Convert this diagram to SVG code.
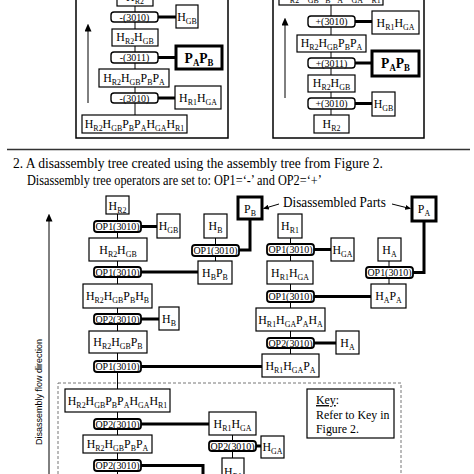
<svg xmlns="http://www.w3.org/2000/svg" width="474" height="474" viewBox="0 0 474 474">
<defs>
<style>
.bx{fill:#fff;stroke:#000;stroke-width:1.2}
.bd{fill:#fff;stroke:#000;stroke-width:3}
.op{fill:#fff;stroke:#000;stroke-width:1.4}
.op2{fill:#fff;stroke:#000;stroke-width:1.8}
.ln{stroke:#000;stroke-width:1;fill:none}
.tk{stroke:#000;stroke-width:3;fill:none}
.fr{fill:none;stroke:#000;stroke-width:1.5}
.ds{fill:none;stroke:#777;stroke-width:1;stroke-dasharray:3 2}
text{font-family:"Liberation Serif","Times New Roman",serif;fill:#000}
.t{font-size:13.5px;text-anchor:middle}
.s{font-size:9px}
.o{font-size:11.3px;text-anchor:middle}
.b{font-size:15.5px;font-weight:bold;text-anchor:middle}
.bs{font-size:10px}
.h{font-size:15.4px}
.k{font-size:13.5px}
.dp{font-size:15px}
.fl{font-family:"Liberation Sans",Arial,sans-serif;font-size:9px;text-anchor:middle}
</style>
<marker id="ah" viewBox="0 0 10 10" refX="2" refY="5" markerWidth="8" markerHeight="7" markerUnits="userSpaceOnUse" orient="auto" preserveAspectRatio="none"><path d="M0,0L10,5L0,10z"/></marker>
<marker id="as" viewBox="0 0 10 10" refX="8" refY="5" markerWidth="6" markerHeight="5" markerUnits="userSpaceOnUse" orient="auto" preserveAspectRatio="none"><path d="M0,0L10,5L0,10z"/></marker>
</defs>

<rect x="0" y="0" width="474" height="474" fill="#fff"/>

<!-- frames / separators -->
<rect class="fr" x="76" y="-10" width="152" height="148"/>
<rect class="fr" x="273" y="-10" width="151" height="148"/>
<line x1="7" y1="149.5" x2="470" y2="149.5" stroke="#333" stroke-width="1.5"/>
<rect class="ds" x="58" y="383" width="343" height="110"/>

<text class="h" transform="translate(13,168) scale(.88,1)">2. A disassembly tree created using the assembly tree from Figure 2.</text>
<text class="h" transform="translate(27,185) scale(.88,1)" textLength="335" lengthAdjust="spacingAndGlyphs">Disassembly tree operators are set to: OP1=‘-’ and OP2=‘+’</text>

<g id="connectors">
<path class="ln" d="M135,6V115M331,5V115"/>
<path class="tk" d="M158,17H176M158,57.5H176M158,98H175M355,21.5H372M355,63H372M355,103.5H372"/>
<path class="ln" d="M88,103V30" stroke-width="1.5" marker-end="url(#ah)"/>
<path class="ln" d="M285,98V24" stroke-width="1.5" marker-end="url(#ah)"/>
<path class="ln" d="M117.5,214V480M215.5,238V261M290.5,238V354M389,261V284M232.5,435V480"/>
<path class="tk" d="M141,226.5H157M141,272H198M141,319H159M141,366.5H262M141,424H209M141,465.5H203V480M239,250H250V219M314,249.5H331M314,296.5H371M314,343H336M413,272.5H424V221M256,446H261"/>
<path class="ln" d="M49,480V220" stroke-width="1.3" marker-end="url(#ah)"/>
<path class="ln" d="M279,204L264,208.5" marker-end="url(#as)"/>
<path class="ln" d="M392,204L410,208.5" marker-end="url(#as)"/>
</g>

<!-- top-left panel -->
<g id="tl_hr2"><rect class="bx" x="117" y="-15" width="36" height="21"/><text class="t" transform="translate(135,1) scale(.88,1)">H<tspan class="s" dy="3">R2</tspan></text></g>
<g id="tl_op1"><rect class="op" x="111" y="12" width="47" height="10" rx="3"/><text class="o" transform="translate(134.5,20.8) scale(.88,1)">-(3010)</text></g>
<g id="tl_hgb"><rect class="bx" x="176" y="5" width="22" height="23"/><text class="t" transform="translate(187,20.5) scale(.88,1)">H<tspan class="s" dy="3">GB</tspan></text></g>
<g id="tl_hr2hgb"><rect class="bx" x="112" y="29" width="46" height="17"/><text class="t" transform="translate(135,41) scale(.88,1)">H<tspan class="s" dy="3">R2</tspan><tspan dy="-3">H</tspan><tspan class="s" dy="3">GB</tspan></text></g>
<g id="tl_op2"><rect class="op" x="111" y="52" width="47" height="11" rx="3"/><text class="o" transform="translate(134.5,61.3) scale(.88,1)">-(3011)</text></g>
<g id="tl_papb"><rect class="bd" x="176" y="46" width="46" height="23"/><text class="b" transform="translate(199,62.5) scale(.88,1)">P<tspan class="bs" dy="3">A</tspan><tspan dy="-3">P</tspan><tspan class="bs" dy="3">B</tspan></text></g>
<g id="tl_hr2hgbpbpa"><rect class="bx" x="99" y="69" width="70" height="18"/><text class="t" transform="translate(134,81.5) scale(.88,1)">H<tspan class="s" dy="3">R2</tspan><tspan dy="-3">H</tspan><tspan class="s" dy="3">GB</tspan><tspan dy="-3">P</tspan><tspan class="s" dy="3">B</tspan><tspan dy="-3">P</tspan><tspan class="s" dy="3">A</tspan></text></g>
<g id="tl_op3"><rect class="op" x="111" y="93" width="47" height="10" rx="3"/><text class="o" transform="translate(134.5,101.8) scale(.88,1)">-(3010)</text></g>
<g id="tl_hr1hga"><rect class="bx" x="175" y="86" width="46" height="23"/><text class="t" transform="translate(198,101.5) scale(.88,1)">H<tspan class="s" dy="3">R1</tspan><tspan dy="-3">H</tspan><tspan class="s" dy="3">GA</tspan></text></g>
<g id="tl_full"><rect class="bx" x="82" y="115" width="105" height="18"/><text class="t" transform="translate(134.5,127.5) scale(.88,1)">H<tspan class="s" dy="3">R2</tspan><tspan dy="-3">H</tspan><tspan class="s" dy="3">GB</tspan><tspan dy="-3">P</tspan><tspan class="s" dy="3">B</tspan><tspan dy="-3">P</tspan><tspan class="s" dy="3">A</tspan><tspan dy="-3">H</tspan><tspan class="s" dy="3">GA</tspan><tspan dy="-3">H</tspan><tspan class="s" dy="3">R1</tspan></text></g>

<!-- top-right panel -->
<g id="tr_full"><rect class="bx" x="279" y="-15" width="104" height="20"/><text class="t" transform="translate(331,-0.5) scale(.88,1)">H<tspan class="s" dy="3">R2</tspan><tspan dy="-3">H</tspan><tspan class="s" dy="3">GB</tspan><tspan dy="-3">P</tspan><tspan class="s" dy="3">B</tspan><tspan dy="-3">P</tspan><tspan class="s" dy="3">A</tspan><tspan dy="-3">H</tspan><tspan class="s" dy="3">GA</tspan><tspan dy="-3">H</tspan><tspan class="s" dy="3">R1</tspan></text></g>
<g id="tr_op1"><rect class="op" x="308" y="16" width="47" height="11" rx="3"/><text class="o" transform="translate(331.5,25.3) scale(.88,1)">+(3010)</text></g>
<g id="tr_hr1hga"><rect class="bx" x="372" y="11" width="47" height="23"/><text class="t" transform="translate(395.5,26.5) scale(.88,1)">H<tspan class="s" dy="3">R1</tspan><tspan dy="-3">H</tspan><tspan class="s" dy="3">GA</tspan></text></g>
<g id="tr_hr2hgbpbpa"><rect class="bx" x="297" y="35" width="69" height="17"/><text class="t" transform="translate(331.5,47) scale(.88,1)">H<tspan class="s" dy="3">R2</tspan><tspan dy="-3">H</tspan><tspan class="s" dy="3">GB</tspan><tspan dy="-3">P</tspan><tspan class="s" dy="3">B</tspan><tspan dy="-3">P</tspan><tspan class="s" dy="3">A</tspan></text></g>
<g id="tr_op2"><rect class="op" x="308" y="58" width="47" height="10" rx="3"/><text class="o" transform="translate(331.5,66.7) scale(.88,1)">+(3011)</text></g>
<g id="tr_papb"><rect class="bd" x="372" y="51" width="47" height="25"/><text class="b" transform="translate(395.5,68) scale(.88,1)">P<tspan class="bs" dy="3">A</tspan><tspan dy="-3">P</tspan><tspan class="bs" dy="3">B</tspan></text></g>
<g id="tr_hr2hgb"><rect class="bx" x="308" y="75" width="47" height="17"/><text class="t" transform="translate(331.5,87) scale(.88,1)">H<tspan class="s" dy="3">R2</tspan><tspan dy="-3">H</tspan><tspan class="s" dy="3">GB</tspan></text></g>
<g id="tr_op3"><rect class="op" x="308" y="98" width="47" height="11" rx="3"/><text class="o" transform="translate(331.5,107.3) scale(.88,1)">+(3010)</text></g>
<g id="tr_hgb"><rect class="bx" x="372" y="92" width="23" height="24"/><text class="t" transform="translate(383.5,107.5) scale(.88,1)">H<tspan class="s" dy="3">GB</tspan></text></g>
<g id="tr_hr2"><rect class="bx" x="314" y="115" width="35" height="18"/><text class="t" transform="translate(331.5,127.5) scale(.88,1)">H<tspan class="s" dy="3">R2</tspan></text></g>

<!-- bottom tree: left column -->
<g id="b_hr2"><rect class="bx" x="106" y="196" width="23" height="18"/><text class="t" transform="translate(117.5,209.5) scale(.88,1)">H<tspan class="s" dy="3">R2</tspan></text></g>
<g id="b_op_a"><rect class="op2" x="94" y="221" width="47" height="11" rx="3"/><text class="o" transform="translate(117.5,230.3) scale(.88,1)">OP1(3010)</text></g>
<g id="b_hgb"><rect class="bx" x="157" y="214" width="23" height="24"/><text class="t" transform="translate(168.5,230) scale(.88,1)">H<tspan class="s" dy="3">GB</tspan></text></g>
<g id="b_hr2hgb"><rect class="bx" x="89" y="238" width="58" height="23"/><text class="t" transform="translate(118,253.5) scale(.88,1)">H<tspan class="s" dy="3">R2</tspan><tspan dy="-3">H</tspan><tspan class="s" dy="3">GB</tspan></text></g>
<g id="b_op_b"><rect class="op2" x="94" y="267" width="47" height="10" rx="3"/><text class="o" transform="translate(117.5,275.8) scale(.88,1)">OP1(3010)</text></g>
<g id="b_hr2hgbpbhb"><rect class="bx" x="83" y="284" width="69" height="24"/><text class="t" transform="translate(117.5,300) scale(.88,1)">H<tspan class="s" dy="3">R2</tspan><tspan dy="-3">H</tspan><tspan class="s" dy="3">GB</tspan><tspan dy="-3">P</tspan><tspan class="s" dy="3">B</tspan><tspan dy="-3">H</tspan><tspan class="s" dy="3">B</tspan></text></g>
<g id="b_op_c"><rect class="op2" x="94" y="314" width="47" height="10" rx="3"/><text class="o" transform="translate(117.5,322.8) scale(.88,1)">OP2(3010)</text></g>
<g id="b_hb2"><rect class="bx" x="159" y="307" width="20" height="23"/><text class="t" transform="translate(169,322.5) scale(.88,1)">H<tspan class="s" dy="3">B</tspan></text></g>
<g id="b_hr2hgbpb"><rect class="bx" x="89" y="331" width="58" height="22"/><text class="t" transform="translate(118,346) scale(.88,1)">H<tspan class="s" dy="3">R2</tspan><tspan dy="-3">H</tspan><tspan class="s" dy="3">GB</tspan><tspan dy="-3">P</tspan><tspan class="s" dy="3">B</tspan></text></g>
<g id="b_op_d"><rect class="op2" x="94" y="361" width="47" height="11" rx="3"/><text class="o" transform="translate(117.5,370.3) scale(.88,1)">OP1(3010)</text></g>
<g id="b_full"><rect class="bx" x="65" y="389" width="105" height="23"/><text class="t" transform="translate(117.5,404.5) scale(.88,1)">H<tspan class="s" dy="3">R2</tspan><tspan dy="-3">H</tspan><tspan class="s" dy="3">GB</tspan><tspan dy="-3">P</tspan><tspan class="s" dy="3">B</tspan><tspan dy="-3">P</tspan><tspan class="s" dy="3">A</tspan><tspan dy="-3">H</tspan><tspan class="s" dy="3">GA</tspan><tspan dy="-3">H</tspan><tspan class="s" dy="3">R1</tspan></text></g>
<g id="b_op_e"><rect class="op2" x="94" y="419" width="47" height="10" rx="3"/><text class="o" transform="translate(117.5,427.8) scale(.88,1)">OP2(3010)</text></g>
<g id="b_hr2hgbpbpa"><rect class="bx" x="83" y="435" width="69" height="18"/><text class="t" transform="translate(117.5,448) scale(.88,1)">H<tspan class="s" dy="3">R2</tspan><tspan dy="-3">H</tspan><tspan class="s" dy="3">GB</tspan><tspan dy="-3">P</tspan><tspan class="s" dy="3">B</tspan><tspan dy="-3">P</tspan><tspan class="s" dy="3">A</tspan></text></g>
<g id="b_op_f"><rect class="op2" x="94" y="460" width="47" height="11" rx="3"/><text class="o" transform="translate(117.5,469.3) scale(.88,1)">OP2(3010)</text></g>

<!-- middle column -->
<g id="b_hb"><rect class="bx" x="204" y="214" width="23" height="24"/><text class="t" transform="translate(215.5,230) scale(.88,1)">H<tspan class="s" dy="3">B</tspan></text></g>
<g id="b_op_g"><rect class="op2" x="192" y="245" width="47" height="11" rx="3"/><text class="o" transform="translate(215.5,254.3) scale(.88,1)">OP1(3010)</text></g>
<g id="b_hbpb"><rect class="bx" x="198" y="261" width="34" height="23"/><text class="t" transform="translate(215,276.5) scale(.88,1)">H<tspan class="s" dy="3">B</tspan><tspan dy="-3">P</tspan><tspan class="s" dy="3">B</tspan></text></g>
<g id="b_pb"><rect class="bd" x="238" y="197" width="24" height="22"/><text class="t" transform="translate(250,212.5) scale(.88,1)">P<tspan class="s" dy="3">B</tspan></text></g>
<g id="b_pa"><rect class="bd" x="412" y="197" width="24" height="24"/><text class="t" transform="translate(424,213) scale(.88,1)">P<tspan class="s" dy="3">A</tspan></text></g>
<text class="dp" transform="translate(283,207) scale(.88,1)">Disassembled Parts</text>

<!-- right column -->
<g id="b_hr1"><rect class="bx" x="278" y="214" width="24" height="24"/><text class="t" transform="translate(290,230) scale(.88,1)">H<tspan class="s" dy="3">R1</tspan></text></g>
<g id="b_op_h"><rect class="op2" x="267" y="244" width="47" height="11" rx="3"/><text class="o" transform="translate(290.5,253.3) scale(.88,1)">OP1(3010)</text></g>
<g id="b_hga"><rect class="bx" x="331" y="238" width="23" height="23"/><text class="t" transform="translate(342.5,253.5) scale(.88,1)">H<tspan class="s" dy="3">GA</tspan></text></g>
<g id="b_hr1hga"><rect class="bx" x="267" y="261" width="46" height="23"/><text class="t" transform="translate(290,276.5) scale(.88,1)">H<tspan class="s" dy="3">R1</tspan><tspan dy="-3">H</tspan><tspan class="s" dy="3">GA</tspan></text></g>
<g id="b_op_i"><rect class="op2" x="267" y="291" width="47" height="11" rx="3"/><text class="o" transform="translate(290.5,300.3) scale(.88,1)">OP1(3010)</text></g>
<g id="b_hr1hgapaha"><rect class="bx" x="256" y="308" width="69" height="23"/><text class="t" transform="translate(290.5,323.5) scale(.88,1)">H<tspan class="s" dy="3">R1</tspan><tspan dy="-3">H</tspan><tspan class="s" dy="3">GA</tspan><tspan dy="-3">P</tspan><tspan class="s" dy="3">A</tspan><tspan dy="-3">H</tspan><tspan class="s" dy="3">A</tspan></text></g>
<g id="b_op_j"><rect class="op2" x="267" y="338" width="47" height="10" rx="3"/><text class="o" transform="translate(290.5,346.8) scale(.88,1)">OP2(3010)</text></g>
<g id="b_ha2"><rect class="bx" x="336" y="331" width="23" height="23"/><text class="t" transform="translate(347.5,346.5) scale(.88,1)">H<tspan class="s" dy="3">A</tspan></text></g>
<g id="b_hr1hgapa"><rect class="bx" x="262" y="354" width="57" height="23"/><text class="t" transform="translate(290.5,369.5) scale(.88,1)">H<tspan class="s" dy="3">R1</tspan><tspan dy="-3">H</tspan><tspan class="s" dy="3">GA</tspan><tspan dy="-3">P</tspan><tspan class="s" dy="3">A</tspan></text></g>

<!-- far right column -->
<g id="b_ha"><rect class="bx" x="378" y="238" width="23" height="23"/><text class="t" transform="translate(389.5,253.5) scale(.88,1)">H<tspan class="s" dy="3">A</tspan></text></g>
<g id="b_op_k"><rect class="op2" x="366" y="267" width="47" height="11" rx="3"/><text class="o" transform="translate(389.5,276.3) scale(.88,1)">OP1(3010)</text></g>
<g id="b_hapa"><rect class="bx" x="371" y="284" width="35" height="24"/><text class="t" transform="translate(388.5,300) scale(.88,1)">H<tspan class="s" dy="3">A</tspan><tspan dy="-3">P</tspan><tspan class="s" dy="3">A</tspan></text></g>

<!-- dashed region -->
<g id="d_hr1hga"><rect class="bx" x="209" y="412" width="47" height="23"/><text class="t" transform="translate(232.5,427.5) scale(.88,1)">H<tspan class="s" dy="3">R1</tspan><tspan dy="-3">H</tspan><tspan class="s" dy="3">GA</tspan></text></g>
<g id="d_op"><rect class="op2" x="209" y="441" width="47" height="10" rx="3"/><text class="o" transform="translate(232.5,449.8) scale(.88,1)">OP2(3010)</text></g>
<g id="d_hga"><rect class="bx" x="261" y="436" width="23" height="22"/><text class="t" transform="translate(272.5,451) scale(.88,1)">H<tspan class="s" dy="3">GA</tspan></text></g>
<g id="d_hr1"><rect class="bx" x="222" y="458" width="22" height="25"/><text class="t" transform="translate(233,476) scale(.88,1)">H<tspan class="s" dy="3">R1</tspan></text></g>

<g id="key"><rect class="bx" x="307" y="389" width="87" height="49"/>
<text class="k" transform="translate(316,404) scale(.88,1)"><tspan text-decoration="underline">Key</tspan>:</text>
<text class="k" transform="translate(316,418.5) scale(.88,1)">Refer to Key in</text>
<text class="k" transform="translate(316,433) scale(.88,1)">Figure 2.</text></g>

<text class="fl" transform="translate(42,392) rotate(-90)">Disassembly flow direction</text>
</svg>
